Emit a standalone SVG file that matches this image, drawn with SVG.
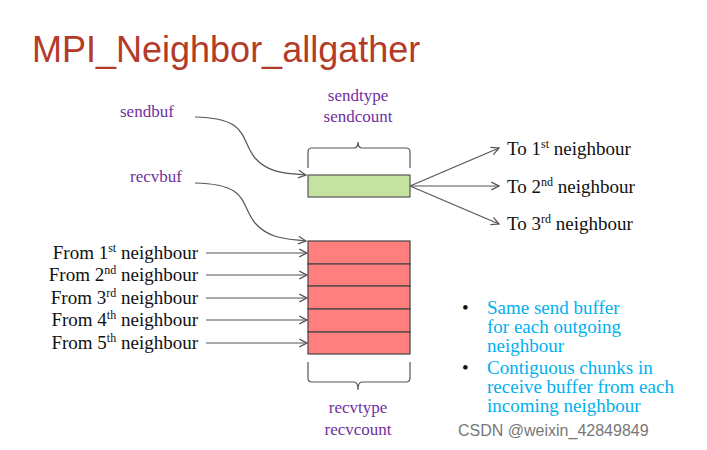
<svg xmlns="http://www.w3.org/2000/svg" width="707" height="450" viewBox="0 0 707 450">
<style>
text{font-family:'Liberation Serif','Times New Roman',serif}
.t{font-size:19px;fill:#111}
.p{font-size:17px;fill:#7030a0}
.b{font-size:19px;fill:#00b0f0}
.c{fill:none;stroke:#555;stroke-width:1.2}
.s{font-size:12px}
text.sans{font-family:'Liberation Sans',Arial,sans-serif}
</style>
<defs><marker id="a" viewBox="0 0 10 10" refX="9" refY="5" markerWidth="8" markerHeight="8" orient="auto"><path d="M1,1 L9,5 L1,9" fill="none" stroke="#555" stroke-width="1.3"/></marker></defs>
<rect width="707" height="450" fill="#fff"/>
<text class="sans" x="32" y="62" font-size="36" fill="#b33b28">MPI_Neighbor_allgather</text>
<g id="labels">
<text class="p" x="120" y="117">sendbuf</text>
<text class="p" x="130" y="182">recvbuf</text>
<text class="p" x="358" y="101" text-anchor="middle">sendtype</text>
<text class="p" x="358" y="122" text-anchor="middle">sendcount</text>
<text class="p" x="358" y="413" text-anchor="middle">recvtype</text>
<text class="p" x="358" y="435" text-anchor="middle">recvcount</text>
</g>
<g id="sendbox"><rect x="308" y="175" width="102" height="22" fill="#c6e2a0" stroke="#555" stroke-width="1.2"/></g>
<g id="recvbox" fill="#ff7f7f" stroke="#444" stroke-width="1.2">
<rect x="308" y="241" width="102" height="23"/><rect x="308" y="264" width="102" height="22"/><rect x="308" y="286" width="102" height="23"/><rect x="308" y="309" width="102" height="23"/><rect x="308" y="332" width="102" height="22"/>
</g>
<g id="connectors" class="c">
<path class="c" d="M308,168 V152 Q308,148 312,148 H354 Q358,148 358,142 Q358,148 362,148 H406 Q410,148 410,152 V168"/>
<path class="c" d="M308,362 V378 Q308,382 312,382 H354 Q358,382 358,390 Q358,382 362,382 H406 Q410,382 410,378 V362"/>
<path class="c" d="M195,117 C250,118 240,140 255,158 C270,175 290,173 306,175" marker-end="url(#a)"/>
<path class="c" d="M195,183 C250,184 240,205 255,223 C270,240 290,239 306,241" marker-end="url(#a)"/>
<path class="c" d="M410,186 L499,148" marker-end="url(#a)"/>
<path class="c" d="M410,186 L499,186" marker-end="url(#a)"/>
<path class="c" d="M410,186 L499,224" marker-end="url(#a)"/>
<path class="c" d="M206,253 H307" marker-end="url(#a)"/>
<path class="c" d="M206,275 H307" marker-end="url(#a)"/>
<path class="c" d="M206,298 H307" marker-end="url(#a)"/>
<path class="c" d="M206,320 H307" marker-end="url(#a)"/>
<path class="c" d="M206,343 H307" marker-end="url(#a)"/>
</g>
<g id="to">
<text class="t" x="507" y="155">To 1<tspan class="s" dy="-7">st</tspan><tspan dy="7"> neighbour</tspan></text>
<text class="t" x="507" y="193">To 2<tspan class="s" dy="-7">nd</tspan><tspan dy="7"> neighbour</tspan></text>
<text class="t" x="507" y="230">To 3<tspan class="s" dy="-7">rd</tspan><tspan dy="7"> neighbour</tspan></text>
</g>
<g id="from" text-anchor="end">
<text class="t" x="198" y="259">From 1<tspan class="s" dy="-7">st</tspan><tspan dy="7"> neighbour</tspan></text>
<text class="t" x="198" y="281">From 2<tspan class="s" dy="-7">nd</tspan><tspan dy="7"> neighbour</tspan></text>
<text class="t" x="198" y="304">From 3<tspan class="s" dy="-7">rd</tspan><tspan dy="7"> neighbour</tspan></text>
<text class="t" x="198" y="326">From 4<tspan class="s" dy="-7">th</tspan><tspan dy="7"> neighbour</tspan></text>
<text class="t" x="198" y="349">From 5<tspan class="s" dy="-7">th</tspan><tspan dy="7"> neighbour</tspan></text>
</g>
<g id="bullets">
<text class="t" x="462" y="314">•</text>
<text class="b" x="487" y="314">Same send buffer</text>
<text class="b" x="487" y="333">for each outgoing</text>
<text class="b" x="487" y="352">neighbour</text>
<text class="t" x="462" y="374">•</text>
<text class="b" x="487" y="374">Contiguous chunks in</text>
<text class="b" x="487" y="393">receive buffer from each</text>
<text class="b" x="487" y="412">incoming neighbour</text>
</g>
<text class="sans" x="458" y="436" font-size="16" fill="#777">CSDN @weixin_42849849</text>
</svg>
